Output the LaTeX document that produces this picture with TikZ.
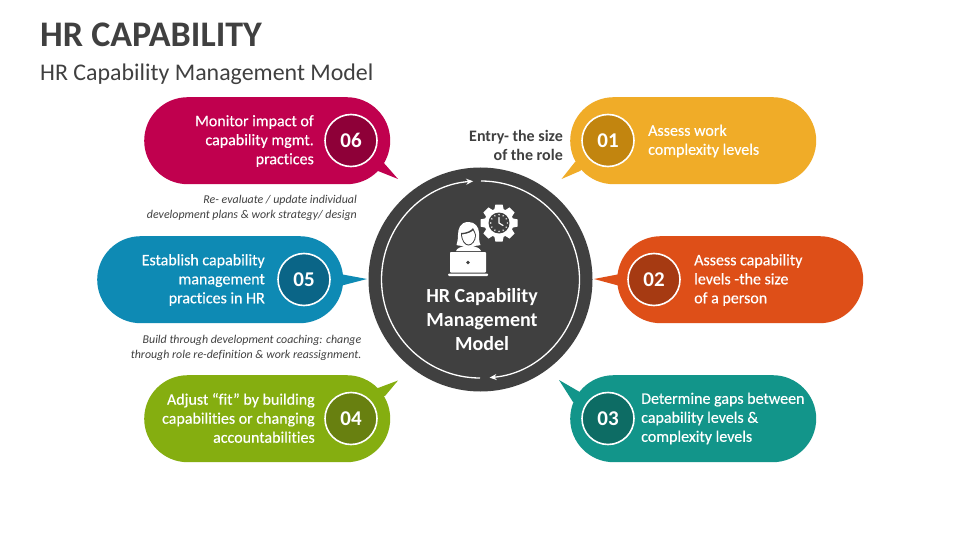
\documentclass[tikz,border=0pt]{standalone}
\usepackage{fontspec}
\setmainfont{Carlito}[Ligatures=NoCommon]
\newfontfamily\medfont{Carlito}[FakeBold=0.35,Ligatures=NoCommon]
\definecolor{dk}{HTML}{404040}
\definecolor{cA}{HTML}{F0AC28}\definecolor{iA}{HTML}{C2850F}
\definecolor{cB}{HTML}{DE4F18}\definecolor{iB}{HTML}{A63A12}
\definecolor{cC}{HTML}{12958A}\definecolor{iC}{HTML}{0D6C64}
\definecolor{cD}{HTML}{85AE10}\definecolor{iD}{HTML}{688010}
\definecolor{cE}{HTML}{0E8AB4}\definecolor{iE}{HTML}{0A6587}
\definecolor{cF}{HTML}{C0004E}\definecolor{iF}{HTML}{8E0038}
\tikzset{
 pill/.style={rounded corners=43.5pt,minimum width=246pt,minimum height=87pt,inner sep=0pt,anchor=north west},
 num/.style={circle,draw=white,line width=1.6pt,minimum size=52pt,inner sep=0pt,text=white,font=\fontsize{21}{22}\selectfont\bfseries},
 lbl/.style={text=white,inner sep=0pt,font=\medfont\fontsize{16}{19}\selectfont},
 note/.style={text=dk,inner sep=0pt,align=right,font=\fontsize{11.9}{15}\selectfont\itshape},
 ring/.style={draw=white,line width=1.3pt},
 tip/.style={-{Stealth[length=7pt,width=6pt]}},
}
\usetikzlibrary{arrows.meta}
\begin{document}
\begin{tikzpicture}[x=1pt,y=-1pt]
\useasboundingbox (0,0) rectangle (960,540);
\fill[white] (0,0) rectangle (960,540);
\node[anchor=base west,inner sep=0pt,text=dk,font=\fontsize{36}{40}\selectfont\bfseries] (title) at (40,46.5) {HR CAPABILITY};
\node[anchor=base west,inner sep=0pt,text=dk,font=\fontsize{23.9}{28}\selectfont] (sub) at (40,81) {HR Capability Management Model};
% tails
\fill[cF] (383,162) -- (398,179) -- (378,171) -- (365,160) -- cycle;
\fill[cE] (340,274) -- (367,279) -- (340,286) -- cycle;
\fill[cD] (385,396) -- (398,380.5) -- (378,388) -- (365,400) -- cycle;
\fill[cA] (575,162) -- (561.5,179) -- (580,171) -- (592,160) -- cycle;
\fill[cB] (620,274) -- (594,279) -- (620,286) -- cycle;
\fill[cC] (573,402) -- (559,380) -- (578,391) -- (592,400) -- cycle;
% pills
\node[pill,fill=cF] (p6) at (144,97) {};
\node[pill,fill=cE] (p5) at (97,236) {};
\node[pill,fill=cD] (p4) at (144,375) {};
\node[pill,fill=cA] (p1) at (570,97) {};
\node[pill,fill=cB] (p2) at (617,236) {};
\node[pill,fill=cC] (p3) at (570,375) {};
% numbers
\node[num,fill=iF] (n6) at (351,140.5) {06};
\node[num,fill=iE] (n5) at (304,279.5) {05};
\node[num,fill=iD] (n4) at (351,418.5) {04};
\node[num,fill=iA] (n1) at (608,140.5) {01};
\node[num,fill=iB] (n2) at (654,279.5) {02};
\node[num,fill=iC] (n3) at (608,418.5) {03};
% labels
\node[lbl,align=right,anchor=east] (t6) at (314,141) {Monitor impact of\\capability mgmt.\\practices\hspace{4pt}};
\node[lbl,align=right,anchor=east] (t5) at (265,280) {Establish capability\\management\\practices in HR\hspace{3pt}};
\node[lbl,align=right,anchor=east] (t4) at (315,418) {Adjust “fit” by building\\capabilities or changing\\accountabilities};
\node[lbl,align=left,anchor=west] (t1) at (648,141) {Assess work\\complexity levels};
\node[lbl,align=left,anchor=west] (t2) at (694,280) {Assess capability\\levels -the size\\of a person};
\node[lbl,align=left,anchor=west] (t3) at (641,418.5) {Determine gaps between\\capability levels \&\\complexity levels};
% side notes
\node[inner sep=0pt,text=dk,align=right,anchor=east,font=\fontsize{16}{19}\selectfont\bfseries] (entry) at (563,145) {Entry- the size\\of the role};
\node[note,anchor=east] (n-a) at (357,207.5) {Re- evaluate / update individual\\development plans \& work strategy/ design};
\node[note,anchor=east] (n-b) at (361.5,347.5) {Build through development coaching: change\\through role re-definition \& work reassignment.};
% hub
\node[circle,fill=dk,minimum size=224pt,inner sep=0pt] (hub) at (480.5,279.5) {};
\draw[ring,tip] (480,378) arc[start angle=90,end angle=180,radius=98.5] arc[start angle=180,end angle=266,radius=98.5];
\draw[ring,tip] (481,181) arc[start angle=-90,end angle=0,radius=98.5] arc[start angle=0,end angle=85,radius=98.5];
\node[text=white,inner sep=0pt,align=center,font=\fontsize{20}{24}\selectfont\bfseries] (hubt) at (482,319.5) {HR Capability\\Management\\Model};
% gear
\begin{scope}[shift={(499,223)}]
\fill[white] (0,0) circle[radius=14.5];
\foreach \a in {0,45,...,315}{\fill[white,rotate=\a] (-3.6,-18.5) -- (3.6,-18.5) -- (5,-12) -- (-5,-12) -- cycle;}
\fill[dk] (0,0) circle[radius=10.5];
\foreach \a in {0,30,...,330}{\fill[white,rotate=\a] (0,-8.3) circle[radius=.8];}
\draw[white,line width=1.2pt,line cap=round] (0,-5.5) -- (0,0) -- (4,2.5);
\end{scope}
% woman
\fill[white] (468.5,222) .. controls (460,222) and (458,229) .. (458,235) .. controls (458,240) and (457,243) .. (456.5,245) .. controls (460,246.5) and (476,246.5) .. (480.5,245) .. controls (479,242) and (479,238) .. (479,233) .. controls (479,227) and (475,222) .. (468.5,222) -- cycle;
\fill[dk] (461,233) .. controls (466,233) and (471,231) .. (473,228) .. controls (474,231) and (476,233) .. (476,235) .. controls (476,241) and (472,245.5) .. (468.5,245.5) .. controls (465,245.5) and (461,241) .. (461,233) -- cycle;
\fill[white] (462,234.5) .. controls (467,234) and (471,232.5) .. (473,230.5) .. controls (474,232) and (475,234) .. (475,235.5) .. controls (475,240) and (471.5,244.5) .. (468.5,244.5) .. controls (465.5,244.5) and (462,240) .. (462,234.5) -- cycle;
\fill[white] (456,251) .. controls (457,248) and (461,247) .. (464,246) -- (473,246) .. controls (476,247) and (480,248) .. (481,251) -- cycle;
% laptop
\fill[white,rounded corners=.8pt] (450,252) rectangle (486,272.5);
\fill[white,rounded corners=1pt] (448,273.5) rectangle (488,276);
\fill[dk] (468,262.5) circle[radius=1.8];
\end{tikzpicture}
\end{document}
